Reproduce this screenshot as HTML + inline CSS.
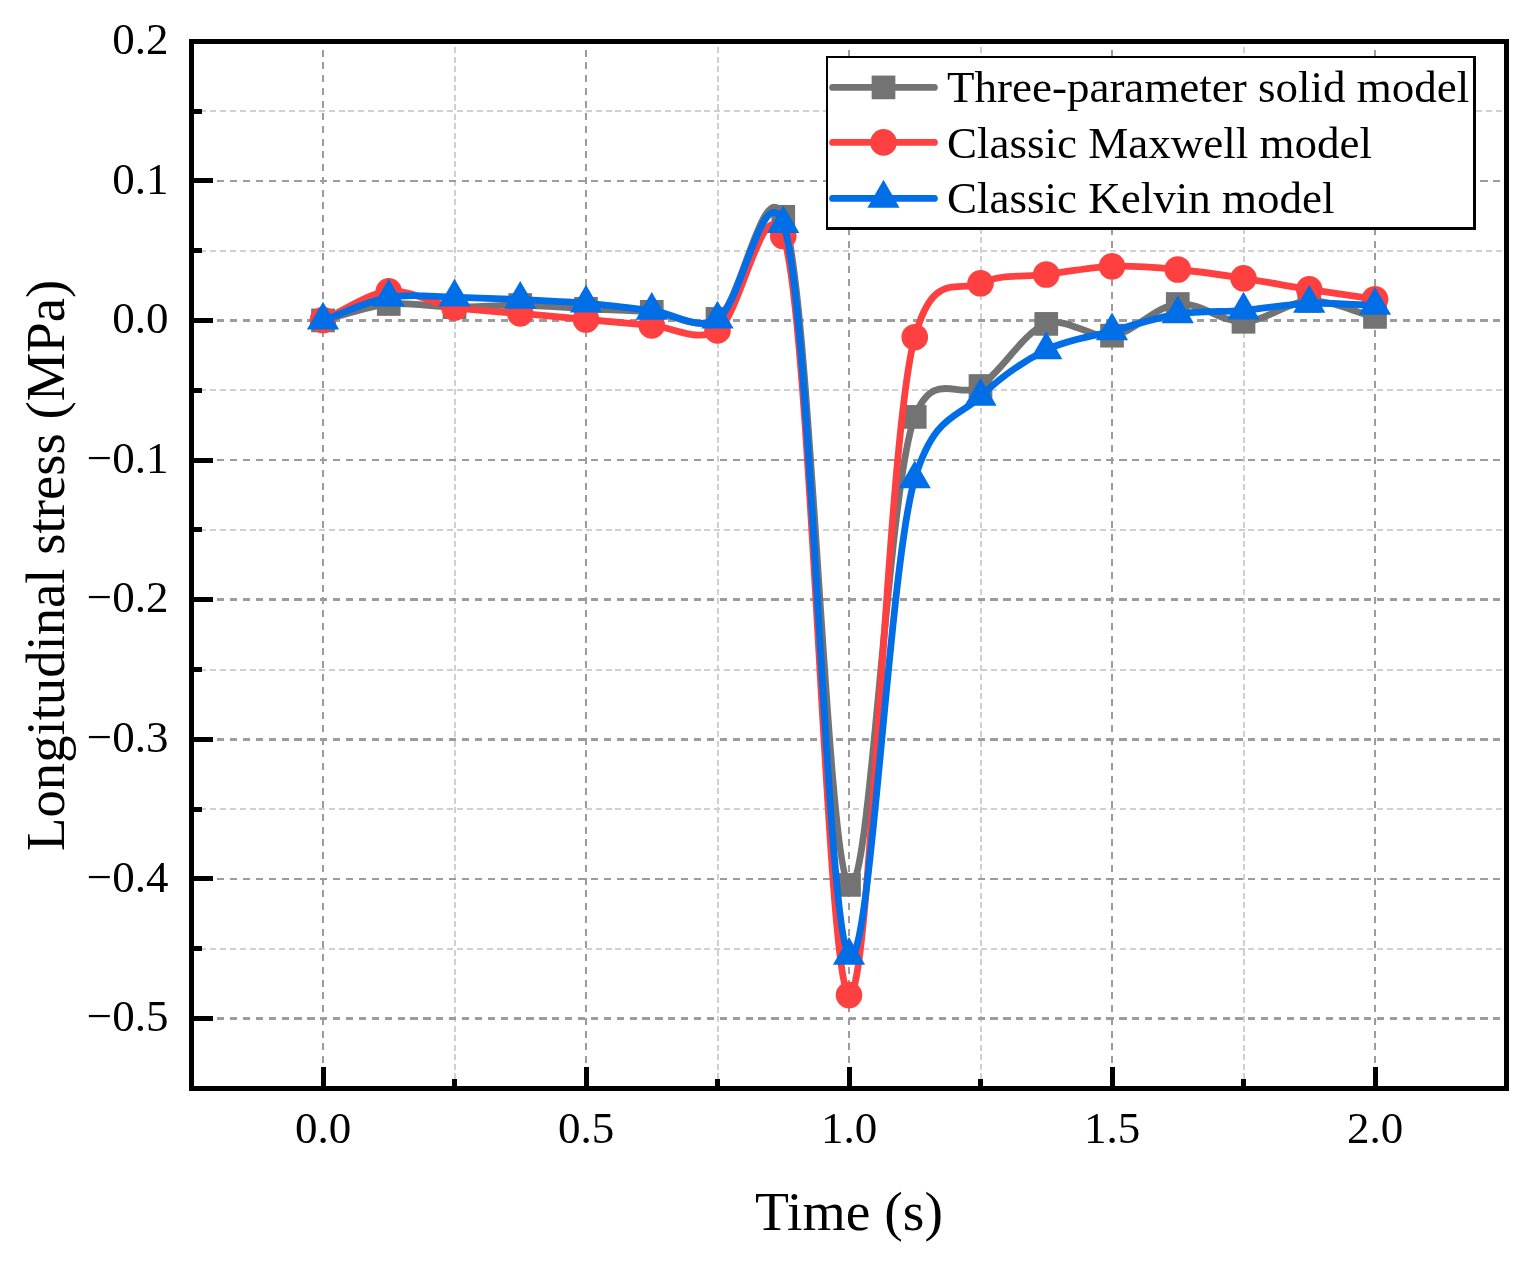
<!DOCTYPE html>
<html><head><meta charset="utf-8"><title>Longitudinal stress vs time</title>
<style>html,body{margin:0;padding:0;background:#fff;}svg{display:block;}</style>
</head><body>
<svg width="1529" height="1262" viewBox="0 0 1529 1262">
<rect x="0" y="0" width="1529" height="1262" fill="#fff"/>
<line x1="323" y1="1088.5" x2="323" y2="41.5" stroke="#9c9c9c" stroke-width="2" stroke-dasharray="7 5.74" shape-rendering="crispEdges"/>
<line x1="454.5" y1="1088.5" x2="454.5" y2="41.5" stroke="#d0d0d0" stroke-width="2" stroke-dasharray="5.8 3.7" shape-rendering="crispEdges"/>
<line x1="586" y1="1088.5" x2="586" y2="41.5" stroke="#9c9c9c" stroke-width="2" stroke-dasharray="7 5.74" shape-rendering="crispEdges"/>
<line x1="717.5" y1="1088.5" x2="717.5" y2="41.5" stroke="#d0d0d0" stroke-width="2" stroke-dasharray="5.8 3.7" shape-rendering="crispEdges"/>
<line x1="849" y1="1088.5" x2="849" y2="41.5" stroke="#9c9c9c" stroke-width="2" stroke-dasharray="7 5.74" shape-rendering="crispEdges"/>
<line x1="980.5" y1="1088.5" x2="980.5" y2="41.5" stroke="#d0d0d0" stroke-width="2" stroke-dasharray="5.8 3.7" shape-rendering="crispEdges"/>
<line x1="1112" y1="1088.5" x2="1112" y2="41.5" stroke="#9c9c9c" stroke-width="2" stroke-dasharray="7 5.74" shape-rendering="crispEdges"/>
<line x1="1243.5" y1="1088.5" x2="1243.5" y2="41.5" stroke="#d0d0d0" stroke-width="2" stroke-dasharray="5.8 3.7" shape-rendering="crispEdges"/>
<line x1="1375" y1="1088.5" x2="1375" y2="41.5" stroke="#9c9c9c" stroke-width="2" stroke-dasharray="7 5.74" shape-rendering="crispEdges"/>
<line x1="191.3" y1="1018.5" x2="1506.5" y2="1018.5" stroke="#9c9c9c" stroke-width="2.5" stroke-dasharray="7.2 5.69" shape-rendering="crispEdges"/>
<line x1="190.2" y1="949" x2="1506.5" y2="949" stroke="#d0d0d0" stroke-width="2" stroke-dasharray="6 3.89" shape-rendering="crispEdges"/>
<line x1="191.3" y1="878.9" x2="1506.5" y2="878.9" stroke="#9c9c9c" stroke-width="2.5" stroke-dasharray="7.2 5.69" shape-rendering="crispEdges"/>
<line x1="190.2" y1="809" x2="1506.5" y2="809" stroke="#d0d0d0" stroke-width="2" stroke-dasharray="6 3.89" shape-rendering="crispEdges"/>
<line x1="191.3" y1="739.3" x2="1506.5" y2="739.3" stroke="#9c9c9c" stroke-width="2.5" stroke-dasharray="7.2 5.69" shape-rendering="crispEdges"/>
<line x1="190.2" y1="670" x2="1506.5" y2="670" stroke="#d0d0d0" stroke-width="2" stroke-dasharray="6 3.89" shape-rendering="crispEdges"/>
<line x1="191.3" y1="599.7" x2="1506.5" y2="599.7" stroke="#9c9c9c" stroke-width="2.5" stroke-dasharray="7.2 5.69" shape-rendering="crispEdges"/>
<line x1="190.2" y1="530" x2="1506.5" y2="530" stroke="#d0d0d0" stroke-width="2" stroke-dasharray="6 3.89" shape-rendering="crispEdges"/>
<line x1="191.3" y1="460.1" x2="1506.5" y2="460.1" stroke="#9c9c9c" stroke-width="2.5" stroke-dasharray="7.2 5.69" shape-rendering="crispEdges"/>
<line x1="190.2" y1="390" x2="1506.5" y2="390" stroke="#d0d0d0" stroke-width="2" stroke-dasharray="6 3.89" shape-rendering="crispEdges"/>
<line x1="191.3" y1="320.5" x2="1506.5" y2="320.5" stroke="#9c9c9c" stroke-width="2.5" stroke-dasharray="7.2 5.69" shape-rendering="crispEdges"/>
<line x1="190.2" y1="251" x2="1506.5" y2="251" stroke="#d0d0d0" stroke-width="2" stroke-dasharray="6 3.89" shape-rendering="crispEdges"/>
<line x1="191.3" y1="180.9" x2="1506.5" y2="180.9" stroke="#9c9c9c" stroke-width="2.5" stroke-dasharray="7.2 5.69" shape-rendering="crispEdges"/>
<line x1="190.2" y1="111" x2="1506.5" y2="111" stroke="#d0d0d0" stroke-width="2" stroke-dasharray="6 3.89" shape-rendering="crispEdges"/>
<path d="M323.00,320.40 C344.92,314.93 366.77,306.20 388.75,304.00 C410.60,301.81 432.58,306.93 454.50,307.10 C476.42,307.27 498.34,304.72 520.25,305.00 C542.17,305.28 564.08,307.67 586.00,308.80 C607.92,309.93 629.84,310.12 651.75,311.80 C673.68,313.48 696.76,331.80 717.50,318.90 C740.92,304.33 763.97,170.99 783.25,216.80 C810.39,281.28 826.26,864.07 849.00,884.90 C870.20,904.32 886.93,489.34 914.75,416.90 C933.88,367.09 959.04,400.95 980.50,386.00 C1002.92,370.38 1023.63,331.78 1046.25,323.90 C1067.54,316.48 1090.27,338.86 1112.00,335.70 C1134.11,332.48 1155.68,306.22 1177.75,304.00 C1199.52,301.81 1221.61,322.30 1243.50,321.80 C1265.44,321.30 1287.29,301.69 1309.25,300.90 C1331.12,300.11 1353.08,311.57 1375.00,316.90" fill="none" stroke="#737373" stroke-width="6.8" stroke-linejoin="round" stroke-linecap="round"/>
<rect x="311.15" y="308.55" width="23.7" height="23.7" fill="#737373"/>
<rect x="376.9" y="292.15" width="23.7" height="23.7" fill="#737373"/>
<rect x="442.65" y="295.25" width="23.7" height="23.7" fill="#737373"/>
<rect x="508.4" y="293.15" width="23.7" height="23.7" fill="#737373"/>
<rect x="574.15" y="296.95" width="23.7" height="23.7" fill="#737373"/>
<rect x="639.9" y="299.95" width="23.7" height="23.7" fill="#737373"/>
<rect x="705.65" y="307.05" width="23.7" height="23.7" fill="#737373"/>
<rect x="771.4" y="204.95" width="23.7" height="23.7" fill="#737373"/>
<rect x="837.15" y="873.05" width="23.7" height="23.7" fill="#737373"/>
<rect x="902.9" y="405.05" width="23.7" height="23.7" fill="#737373"/>
<rect x="968.65" y="374.15" width="23.7" height="23.7" fill="#737373"/>
<rect x="1034.4" y="312.05" width="23.7" height="23.7" fill="#737373"/>
<rect x="1100.15" y="323.85" width="23.7" height="23.7" fill="#737373"/>
<rect x="1165.9" y="292.15" width="23.7" height="23.7" fill="#737373"/>
<rect x="1231.65" y="309.95" width="23.7" height="23.7" fill="#737373"/>
<rect x="1297.4" y="289.05" width="23.7" height="23.7" fill="#737373"/>
<rect x="1363.15" y="305.05" width="23.7" height="23.7" fill="#737373"/>
<path d="M323.00,320.00 C344.92,310.43 366.71,293.31 388.75,291.30 C410.54,289.31 432.53,303.82 454.50,307.50 C476.36,311.17 498.33,311.40 520.25,313.40 C542.17,315.40 564.08,317.50 586.00,319.50 C607.92,321.50 629.83,323.58 651.75,325.40 C673.66,327.22 696.67,342.81 717.50,330.40 C740.78,316.52 764.14,184.19 783.25,236.00 C811.14,311.62 826.76,984.78 849.00,995.10 C870.61,1005.13 886.15,440.95 914.75,337.20 C933.73,268.36 958.01,293.64 980.50,283.30 C1001.90,273.46 1024.33,277.33 1046.25,274.50 C1068.16,271.67 1090.07,267.13 1112.00,266.30 C1133.90,265.47 1155.85,267.50 1177.75,269.50 C1199.68,271.50 1221.59,274.99 1243.50,278.30 C1265.43,281.62 1287.33,285.92 1309.25,289.40 C1331.16,292.88 1353.08,295.93 1375.00,299.20" fill="none" stroke="#FF4040" stroke-width="6.8" stroke-linejoin="round" stroke-linecap="round"/>
<circle cx="323" cy="320" r="13.3" fill="#FF4040"/>
<circle cx="388.75" cy="291.3" r="13.3" fill="#FF4040"/>
<circle cx="454.5" cy="307.5" r="13.3" fill="#FF4040"/>
<circle cx="520.25" cy="313.4" r="13.3" fill="#FF4040"/>
<circle cx="586" cy="319.5" r="13.3" fill="#FF4040"/>
<circle cx="651.75" cy="325.4" r="13.3" fill="#FF4040"/>
<circle cx="717.5" cy="330.4" r="13.3" fill="#FF4040"/>
<circle cx="783.25" cy="236" r="13.3" fill="#FF4040"/>
<circle cx="849" cy="995.1" r="13.3" fill="#FF4040"/>
<circle cx="914.75" cy="337.2" r="13.3" fill="#FF4040"/>
<circle cx="980.5" cy="283.3" r="13.3" fill="#FF4040"/>
<circle cx="1046.25" cy="274.5" r="13.3" fill="#FF4040"/>
<circle cx="1112" cy="266.3" r="13.3" fill="#FF4040"/>
<circle cx="1177.75" cy="269.5" r="13.3" fill="#FF4040"/>
<circle cx="1243.5" cy="278.3" r="13.3" fill="#FF4040"/>
<circle cx="1309.25" cy="289.4" r="13.3" fill="#FF4040"/>
<circle cx="1375" cy="299.2" r="13.3" fill="#FF4040"/>
<path d="M323.00,320.30 C344.92,312.63 366.71,301.11 388.75,297.30 C410.54,293.53 432.58,296.93 454.50,297.30 C476.42,297.67 498.34,298.50 520.25,299.50 C542.17,300.50 564.09,301.47 586.00,303.30 C607.93,305.13 629.84,307.83 651.75,310.50 C673.67,313.17 696.68,331.20 717.50,319.30 C740.79,305.99 764.10,173.60 783.25,223.70 C810.95,296.16 826.07,928.88 849.00,955.60 C870.06,980.14 888.37,568.02 914.75,479.10 C934.23,413.45 957.96,418.30 980.50,396.50 C1001.85,375.85 1023.96,360.93 1046.25,350.00 C1067.82,339.42 1090.07,337.09 1112.00,331.10 C1133.90,325.12 1155.77,317.56 1177.75,314.10 C1199.60,310.66 1221.59,312.08 1243.50,310.30 C1265.43,308.52 1287.32,304.20 1309.25,303.40 C1331.16,302.60 1353.08,304.80 1375.00,305.50" fill="none" stroke="#006EE6" stroke-width="6.8" stroke-linejoin="round" stroke-linecap="round"/>
<polygon points="323,301.77 339.1,329.57 306.9,329.57" fill="#006EE6"/>
<polygon points="388.75,278.77 404.85,306.57 372.65,306.57" fill="#006EE6"/>
<polygon points="454.5,278.77 470.6,306.57 438.4,306.57" fill="#006EE6"/>
<polygon points="520.25,280.97 536.35,308.77 504.15,308.77" fill="#006EE6"/>
<polygon points="586,284.77 602.1,312.57 569.9,312.57" fill="#006EE6"/>
<polygon points="651.75,291.97 667.85,319.77 635.65,319.77" fill="#006EE6"/>
<polygon points="717.5,300.77 733.6,328.57 701.4,328.57" fill="#006EE6"/>
<polygon points="783.25,205.17 799.35,232.97 767.15,232.97" fill="#006EE6"/>
<polygon points="849,937.07 865.1,964.87 832.9,964.87" fill="#006EE6"/>
<polygon points="914.75,460.57 930.85,488.37 898.65,488.37" fill="#006EE6"/>
<polygon points="980.5,377.97 996.6,405.77 964.4,405.77" fill="#006EE6"/>
<polygon points="1046.25,331.47 1062.35,359.27 1030.15,359.27" fill="#006EE6"/>
<polygon points="1112,312.57 1128.1,340.37 1095.9,340.37" fill="#006EE6"/>
<polygon points="1177.75,295.57 1193.85,323.37 1161.65,323.37" fill="#006EE6"/>
<polygon points="1243.5,291.77 1259.6,319.57 1227.4,319.57" fill="#006EE6"/>
<polygon points="1309.25,284.87 1325.35,312.67 1293.15,312.67" fill="#006EE6"/>
<polygon points="1375,286.97 1391.1,314.77 1358.9,314.77" fill="#006EE6"/>
<rect x="191.5" y="41.5" width="1315.0" height="1047.0" fill="none" stroke="#000" stroke-width="5" shape-rendering="crispEdges"/>
<line x1="323" y1="1088.5" x2="323" y2="1067" stroke="#000" stroke-width="5" shape-rendering="crispEdges"/>
<line x1="454.5" y1="1088.5" x2="454.5" y2="1078.5" stroke="#000" stroke-width="5" shape-rendering="crispEdges"/>
<line x1="586" y1="1088.5" x2="586" y2="1067" stroke="#000" stroke-width="5" shape-rendering="crispEdges"/>
<line x1="717.5" y1="1088.5" x2="717.5" y2="1078.5" stroke="#000" stroke-width="5" shape-rendering="crispEdges"/>
<line x1="849" y1="1088.5" x2="849" y2="1067" stroke="#000" stroke-width="5" shape-rendering="crispEdges"/>
<line x1="980.5" y1="1088.5" x2="980.5" y2="1078.5" stroke="#000" stroke-width="5" shape-rendering="crispEdges"/>
<line x1="1112" y1="1088.5" x2="1112" y2="1067" stroke="#000" stroke-width="5" shape-rendering="crispEdges"/>
<line x1="1243.5" y1="1088.5" x2="1243.5" y2="1078.5" stroke="#000" stroke-width="5" shape-rendering="crispEdges"/>
<line x1="1375" y1="1088.5" x2="1375" y2="1067" stroke="#000" stroke-width="5" shape-rendering="crispEdges"/>
<line x1="191.5" y1="1018.5" x2="213" y2="1018.5" stroke="#000" stroke-width="5" shape-rendering="crispEdges"/>
<line x1="191.5" y1="948.7" x2="201.5" y2="948.7" stroke="#000" stroke-width="5" shape-rendering="crispEdges"/>
<line x1="191.5" y1="878.9" x2="213" y2="878.9" stroke="#000" stroke-width="5" shape-rendering="crispEdges"/>
<line x1="191.5" y1="809.1" x2="201.5" y2="809.1" stroke="#000" stroke-width="5" shape-rendering="crispEdges"/>
<line x1="191.5" y1="739.3" x2="213" y2="739.3" stroke="#000" stroke-width="5" shape-rendering="crispEdges"/>
<line x1="191.5" y1="669.5" x2="201.5" y2="669.5" stroke="#000" stroke-width="5" shape-rendering="crispEdges"/>
<line x1="191.5" y1="599.7" x2="213" y2="599.7" stroke="#000" stroke-width="5" shape-rendering="crispEdges"/>
<line x1="191.5" y1="529.9" x2="201.5" y2="529.9" stroke="#000" stroke-width="5" shape-rendering="crispEdges"/>
<line x1="191.5" y1="460.1" x2="213" y2="460.1" stroke="#000" stroke-width="5" shape-rendering="crispEdges"/>
<line x1="191.5" y1="390.3" x2="201.5" y2="390.3" stroke="#000" stroke-width="5" shape-rendering="crispEdges"/>
<line x1="191.5" y1="320.5" x2="213" y2="320.5" stroke="#000" stroke-width="5" shape-rendering="crispEdges"/>
<line x1="191.5" y1="250.7" x2="201.5" y2="250.7" stroke="#000" stroke-width="5" shape-rendering="crispEdges"/>
<line x1="191.5" y1="180.9" x2="213" y2="180.9" stroke="#000" stroke-width="5" shape-rendering="crispEdges"/>
<line x1="191.5" y1="111.1" x2="201.5" y2="111.1" stroke="#000" stroke-width="5" shape-rendering="crispEdges"/>
<g font-family="'Liberation Serif', serif" fill="#000"><text x="323" y="1143" text-anchor="middle" font-size="45">0.0</text><text x="586" y="1143" text-anchor="middle" font-size="45">0.5</text><text x="849" y="1143" text-anchor="middle" font-size="45">1.0</text><text x="1112" y="1143" text-anchor="middle" font-size="45">1.5</text><text x="1375" y="1143" text-anchor="middle" font-size="45">2.0</text><text x="168.5" y="1031.2" text-anchor="end" font-size="45">−0.5</text><text x="168.5" y="891.6" text-anchor="end" font-size="45">−0.4</text><text x="168.5" y="752" text-anchor="end" font-size="45">−0.3</text><text x="168.5" y="612.4" text-anchor="end" font-size="45">−0.2</text><text x="168.5" y="472.8" text-anchor="end" font-size="45">−0.1</text><text x="168.5" y="333.2" text-anchor="end" font-size="45">0.0</text><text x="168.5" y="193.6" text-anchor="end" font-size="45">0.1</text><text x="168.5" y="54" text-anchor="end" font-size="45">0.2</text><text x="849" y="1230" text-anchor="middle" font-size="55.6">Time (s)</text><text x="0" y="0" transform="translate(64 565.4) rotate(-90)" text-anchor="middle" font-size="54.7">Longitudinal stress (MPa)</text></g>
<rect x="827.2" y="57.2" width="647.5" height="171.5" fill="#fff" stroke="#000" stroke-width="2.5" shape-rendering="crispEdges"/>
<line x1="832.6" y1="87.4" x2="934.4" y2="87.4" stroke="#737373" stroke-width="6.8" stroke-linecap="round"/>
<rect x="871.65" y="75.55" width="23.7" height="23.7" fill="#737373"/>
<text x="947" y="101.9" font-size="45" font-family="'Liberation Serif', serif">Three-parameter solid model</text>
<line x1="832.6" y1="142.4" x2="934.4" y2="142.4" stroke="#FF4040" stroke-width="6.8" stroke-linecap="round"/>
<circle cx="883.5" cy="142.4" r="13.3" fill="#FF4040"/>
<text x="947" y="157.5" font-size="45" font-family="'Liberation Serif', serif">Classic Maxwell model</text>
<line x1="832.6" y1="198.4" x2="934.4" y2="198.4" stroke="#006EE6" stroke-width="6.8" stroke-linecap="round"/>
<polygon points="883.5,179.87 899.6,207.67 867.4,207.67" fill="#006EE6"/>
<text x="947" y="212.9" font-size="45" font-family="'Liberation Serif', serif">Classic Kelvin model</text>
</svg>
</body></html>
